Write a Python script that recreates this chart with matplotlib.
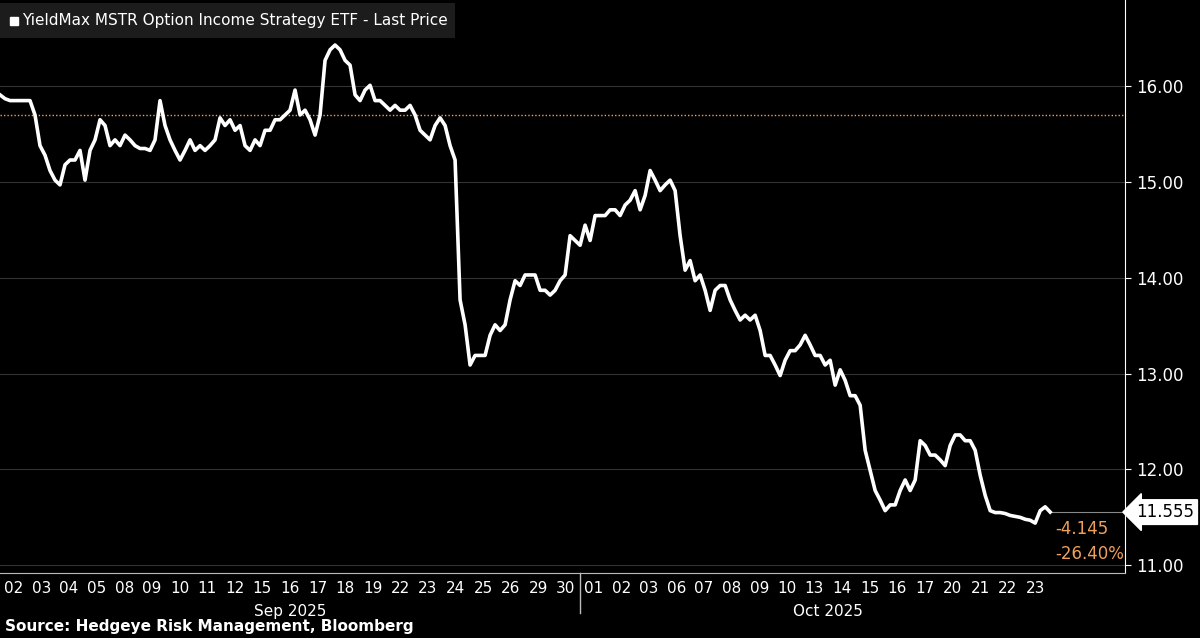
import numpy as np
import matplotlib.pyplot as plt
from matplotlib.patches import Rectangle

# trading days shown on the axis
sep_days = ['02','03','04','05','08','09','10','11','12','15','16','17','18','19',
            '22','23','24','25','26','29','30']
oct_days = ['01','02','03','06','07','08','09','10','13','14','15','16','17','20',
            '21','22','23']

# intraday price (evenly spaced samples)
prices = [15.91,15.87,15.85,15.85,15.85,15.85,15.85,15.70,15.38,15.28,15.12,15.02,14.97,15.18,
          15.23,15.23,15.33,15.02,15.33,15.44,15.65,15.59,15.38,15.44,15.38,15.49,15.44,15.38,
          15.35,15.35,15.33,15.44,15.85,15.59,15.44,15.33,15.23,15.33,15.44,15.33,15.38,15.33,
          15.38,15.44,15.67,15.59,15.65,15.54,15.59,15.38,15.33,15.44,15.38,15.54,15.54,15.65,
          15.65,15.70,15.75,15.96,15.70,15.75,15.65,15.49,15.70,16.27,16.38,16.43,16.38,16.27,
          16.22,15.91,15.85,15.96,16.01,15.85,15.85,15.80,15.75,15.80,15.75,15.75,15.80,15.70,
          15.54,15.49,15.44,15.59,15.67,15.59,15.38,15.23,13.77,13.51,13.09,13.19,13.19,13.19,
          13.40,13.51,13.45,13.51,13.77,13.97,13.92,14.03,14.03,14.03,13.87,13.87,13.82,13.87,
          13.97,14.03,14.44,14.39,14.34,14.55,14.39,14.65,14.65,14.65,14.71,14.71,14.65,14.76,
          14.81,14.91,14.71,14.86,15.12,15.02,14.91,14.97,15.02,14.91,14.44,14.08,14.18,13.97,
          14.03,13.87,13.66,13.87,13.92,13.92,13.77,13.66,13.56,13.61,13.56,13.61,13.45,13.19,
          13.19,13.09,12.98,13.14,13.24,13.24,13.30,13.40,13.30,13.19,13.19,13.09,13.14,12.88,
          13.04,12.93,12.77,12.77,12.67,12.20,11.99,11.78,11.68,11.57,11.63,11.63,11.78,11.89,
          11.78,11.89,12.30,12.25,12.15,12.15,12.10,12.04,12.25,12.36,12.36,12.30,12.30,12.20,
          11.94,11.73,11.57,11.55,11.55,11.54,11.52,11.51,11.50,11.48,11.47,11.44,11.57,11.61,
          11.555]
ref_price = 15.70
last_price = 11.555
change = -4.145
change_pct = -26.40
legend_text = 'YieldMax MSTR Option Income Strategy ETF - Last Price'
source_text = 'Source: Hedgeye Risk Management, Bloomberg'

orange = '#f0a05a'
fig = plt.figure(figsize=(12, 6.38), dpi=100, facecolor='black')
ax = fig.add_axes([0.0, 0.102, 0.9375, 0.898], facecolor='black')

n_days = len(sep_days) + len(oct_days)
t = np.linspace(0.0, n_days + 0.04, len(prices))
ax.plot(t, prices, color='white', lw=2.6, solid_joinstyle='round', zorder=3)
ax.axhline(ref_price, color=orange, lw=1, ls=(0, (1, 1.5)), zorder=2)

ax.set_xlim(0, 40.75)
ax.set_ylim(10.92, 16.90)
ax.set_yticks([11, 12, 13, 14, 15, 16])
ax.yaxis.tick_right()
ax.set_yticklabels([f'{v:.2f}' for v in [11, 12, 13, 14, 15, 16]], color='white', fontsize=12)
ax.tick_params(axis='y', length=4, color='white', pad=4)
ax.grid(axis='y', color='#333333', lw=0.8)

ticks = np.arange(n_days) + 0.5
ax.set_xticks(ticks)
ax.set_xticklabels(sep_days + oct_days, color='white', fontsize=11)
ax.tick_params(axis='x', length=0, pad=6)
for s in ['top', 'left']:
    ax.spines[s].set_visible(False)
ax.spines['right'].set_color('white')
ax.spines['bottom'].set_color('#bbbbbb')

# month separator and labels
sep_x = len(sep_days)
ax.plot([sep_x, sep_x], [0, -0.07], transform=ax.get_xaxis_transform(),
        color='#bbbbbb', lw=1, clip_on=False)
ax.text(len(sep_days) / 2, -0.068, 'Sep 2025', transform=ax.get_xaxis_transform(),
        color='white', fontsize=11, ha='center', va='center')
ax.text(sep_x + len(oct_days) / 2 + 0.5, -0.068, 'Oct 2025', transform=ax.get_xaxis_transform(),
        color='white', fontsize=11, ha='center', va='center')
fig.text(0.004, 0.018, source_text, color='white', fontsize=11, fontweight='bold',
         ha='left', va='center')

# legend box
ax.add_patch(Rectangle((0, 0.933), 0.404, 0.062, transform=ax.transAxes,
                       facecolor='#1c1c1c', edgecolor='none', zorder=4))
ax.plot([0.012], [0.964], marker='s', ms=6, color='white', transform=ax.transAxes, zorder=5)
ax.text(0.02, 0.964, legend_text, transform=ax.transAxes, color='white', fontsize=11,
        va='center', ha='left', zorder=5)

# last price tag and change
ax.axhline(last_price, xmin=0.935, xmax=1.0, color='#888888', lw=0.8)
ax.annotate(f'{last_price:.3f}', xy=(1.0, last_price), xycoords=('axes fraction', 'data'),
            xytext=(8, 0), textcoords='offset points', va='center', ha='left',
            fontsize=12, color='black',
            bbox=dict(boxstyle='larrow,pad=0.2', fc='white', ec='white'))
ax.text(0.938, last_price - 0.18, f'{change:.3f}', transform=ax.get_yaxis_transform(),
        color=orange, fontsize=12, ha='left', va='center')
ax.text(0.938, last_price - 0.44, f'{change_pct:.2f}%', transform=ax.get_yaxis_transform(),
        color=orange, fontsize=12, ha='left', va='center')

fig.savefig('out.png', dpi=100, facecolor='black')
